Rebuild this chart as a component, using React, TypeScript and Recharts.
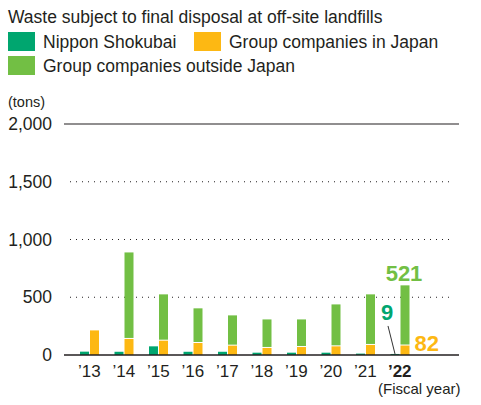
import {
  Bar,
  BarChart,
  CartesianGrid,
  ReferenceLine,
  XAxis,
  YAxis,
} from "recharts";

const years = ["’13", "’14", "’15", "’16", "’17", "’18", "’19", "’20", "’21", "’22"];
const nipponShokubai = [29, 28, 75, 28, 28, 20, 20, 20, 12, 9];
const groupJapan = [213, 139, 124, 104, 81, 61, 69, 75, 87, 82];
const groupOutside = [0, 749, 401, 300, 262, 247, 239, 363, 438, 521];
const yTicks = [0, 500, 1000, 1500, 2000];

const C_NS = "#00a66f";
const C_JP = "#fdb813";
const C_OUT = "#72bf44";
const TEXT = "#231f20";
const FONT = "'Liberation Sans', Arial, sans-serif";

const data = years.map((year, i) => ({
  year,
  ns: nipponShokubai[i],
  jp: groupJapan[i],
  out: groupOutside[i],
}));

const last = years.length - 1;

// leave a thin white seam between the two stacked parts
const OutsideShape = (p: any) => {
  if (!p.height || p.height <= 1) return <g />;
  return <rect x={p.x} y={p.y} width={p.width} height={p.height - 1} fill={p.fill} />;
};

const XTick = ({ x, y, payload }: any) => {
  const isLast = payload.value === years[last];
  return (
    <text
      x={x}
      y={y}
      dy={14}
      textAnchor="middle"
      fill={TEXT}
      fontSize={17}
      fontWeight={isLast ? 700 : 400}
    >
      {payload.value}
    </text>
  );
};

const dottedLine = (p: any) => (
  <line
    key={p.key ?? `h-${p.y1}`}
    x1={p.x1 + 6}
    x2={p.x2 - 5}
    y1={p.y1}
    y2={p.y2}
    stroke={TEXT}
    strokeWidth={1}
    strokeDasharray="1 5"
  />
);

const nsLabel = (p: any) => {
  if (p.index !== last) return null;
  const vb = p.viewBox ?? p;
  const cx = vb.x + vb.width / 2;
  return (
    <g>
      <line x1={cx} y1={vb.y} x2={cx - 7} y2={vb.y - 28} stroke="#333" strokeWidth={1} />
      <text x={cx - 8} y={vb.y - 34} textAnchor="middle" fill={C_NS} fontSize={22} fontWeight={700}>
        {nipponShokubai[last]}
      </text>
    </g>
  );
};

const jpLabel = (p: any) => {
  if (p.index !== last) return null;
  const vb = p.viewBox ?? p;
  return (
    <text
      x={vb.x + vb.width + 5}
      y={vb.y + vb.height - 4.5}
      fill={C_JP}
      fontSize={22}
      fontWeight={700}
    >
      {groupJapan[last]}
    </text>
  );
};

const outLabel = (p: any) => {
  if (p.index !== last) return null;
  const vb = p.viewBox ?? p;
  return (
    <text
      x={vb.x + vb.width / 2 - 1}
      y={vb.y - 4.5}
      textAnchor="middle"
      fill={C_OUT}
      fontSize={22}
      fontWeight={700}
    >
      {groupOutside[last]}
    </text>
  );
};

const legendItems = [
  { name: "Nippon Shokubai", color: C_NS, left: 8, top: 32 },
  { name: "Group companies in Japan", color: C_JP, left: 194, top: 32 },
  { name: "Group companies outside Japan", color: C_OUT, left: 8, top: 56 },
];

export default function App() {
  return (
    <div
      style={{
        position: "absolute",
        left: 0,
        top: 0,
        width: 481,
        height: 405,
        background: "#fff",
        fontFamily: FONT,
        color: TEXT,
      }}
    >
      <div style={{ position: "absolute", left: 8, top: 7, fontSize: 17.5, lineHeight: "20px", whiteSpace: "nowrap" }}>
        Waste subject to final disposal at off-site landfills
      </div>
      {legendItems.map((it) => (
        <div key={it.name}>
          <div
            style={{
              position: "absolute",
              left: it.left,
              top: it.top,
              width: 27,
              height: 18.5,
              background: it.color,
            }}
          />
          <div
            style={{
              position: "absolute",
              left: it.left + 35,
              top: it.top - 0.5,
              fontSize: 17.5,
              lineHeight: "20px",
              whiteSpace: "nowrap",
            }}
          >
            {it.name}
          </div>
        </div>
      ))}
      <div style={{ position: "absolute", left: 8, top: 93, fontSize: 14.5, lineHeight: "18px" }}>(tons)</div>
      <div style={{ position: "absolute", left: 378, top: 382, fontSize: 15, lineHeight: "14px", whiteSpace: "nowrap" }}>
        (Fiscal year)
      </div>

      <BarChart
        width={481}
        height={405}
        data={data}
        margin={{ top: 124, right: 22, left: 0, bottom: 0 }}
        barGap={1}
        style={{ fontFamily: FONT }}
      >
        <CartesianGrid vertical={false} horizontal={dottedLine} horizontalValues={[500, 1000, 1500]} />
        <XAxis
          dataKey="year"
          height={50}
          axisLine={false}
          tickLine={false}
          interval={0}
          padding={{ left: 8, right: 42 }}
          tick={<XTick />}
        />
        <YAxis
          width={64}
          domain={[0, 2000]}
          ticks={yTicks}
          axisLine={false}
          tickLine={false}
          tickMargin={6}
          tickFormatter={(v: number) => v.toLocaleString("en-US")}
          tick={{ fill: TEXT, fontSize: 17.5 }}
        />
        <Bar dataKey="ns" stackId="n" fill={C_NS} barSize={9} isAnimationActive={false} label={nsLabel} />
        <Bar dataKey="jp" stackId="g" fill={C_JP} barSize={9} isAnimationActive={false} label={jpLabel} />
        <Bar
          dataKey="out"
          stackId="g"
          fill={C_OUT}
          barSize={9}
          shape={OutsideShape}
          isAnimationActive={false}
          label={outLabel}
        />
        <ReferenceLine y={2000} stroke={TEXT} strokeWidth={1.2} />
        <ReferenceLine y={0} stroke={TEXT} strokeWidth={1.6} />
      </BarChart>
    </div>
  );
}
